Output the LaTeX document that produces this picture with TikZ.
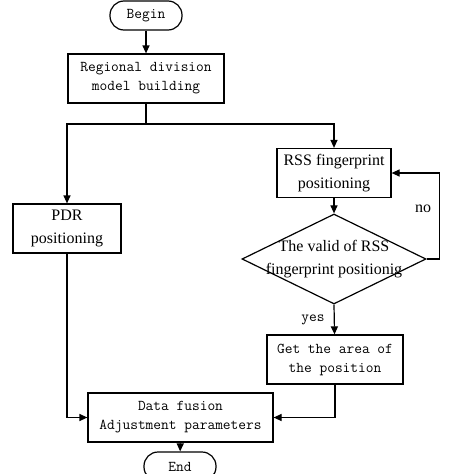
\documentclass[tikz,border=0pt]{standalone}
\usepackage{fontspec}
\setmainfont{Liberation Serif}
\usetikzlibrary{positioning,calc,shapes,arrows.meta}

\begin{document}
\begin{tikzpicture}[x=1pt,y=-1pt,auto]
                    \tikzstyle{every node}=[inner sep=0,align=center]
                    \tikzstyle{arr}=[-{Triangle[length=8,width=7]},line width=1.2]
                    \tikzstyle{line}=[line width=1.2]
                    \tikzstyle{term}=[draw,line width=1.2,rectangle,rounded corners=14,minimum width=72,minimum height=29,font=\fontsize{15}{19}\ttfamily]
                    \tikzstyle{block}=[draw,line width=1.2,rectangle,minimum height=49,font=\fontsize{15}{19}\ttfamily]
                    \tikzstyle{sblock}=[block,font=\fontsize{16}{23}\selectfont]
                    \tikzstyle{decide}=[draw,line width=1.2,diamond,minimum width=184,minimum height=90]
                    \tikzstyle{note}=[font=\fontsize{15}{19}\ttfamily]
                    {
                        \useasboundingbox (0,0) rectangle (474,474);

                        \node[term] (begin) at (146, 15.5) {Begin};
                        \node[block,minimum width=156] (region) at (146, 78.5) {Regional division\\model building};
                        \coordinate (split) at (146, 124);
                        \node[sblock,minimum width=108] (pdr) at (67, 228.5) {PDR\\positioning};
                        \node[sblock,minimum width=114] (rss) at (334, 173) {RSS fingerprint\\positioning};
                        \node[decide] (valid) at (334, 259) {};
                        \node[font=\fontsize{16}{23}\selectfont] (validtext) at (334, 259) {The valid of RSS\\fingerprint positionig};
                        \node[block,minimum width=136] (area) at (335, 359.5) {Get the area of\\the position};
                        \node[block,minimum width=185] (fusion) at (180.5, 417.5) {Data fusion\\Adjustment parameters};
                        \node[term] (end) at (180, 466.5) {End};

                        \draw[arr] (begin) -- (region);
                        \draw[line] (region) -- (split);
                        \draw[arr] (split) -| (pdr);
                        \draw[arr] (split) -| (rss);
                        \draw[arr] (rss) -- (valid);
                        \draw[arr] (valid.east) -- ++(13,0) |- node[pos=0.29,left=8,font=\fontsize{16}{19}\selectfont] (no) {no} (rss.east);
                        \draw[arr] (valid.south) -- node[midway,left=9,note] (yes) {yes} (area);
                        \draw[arr] (area.south) |- (fusion.east);
                        \draw[arr] (pdr.south) |- (fusion.west);
                        \draw[arr] (fusion) -- (end);
                    }
\end{tikzpicture}
\end{document}
